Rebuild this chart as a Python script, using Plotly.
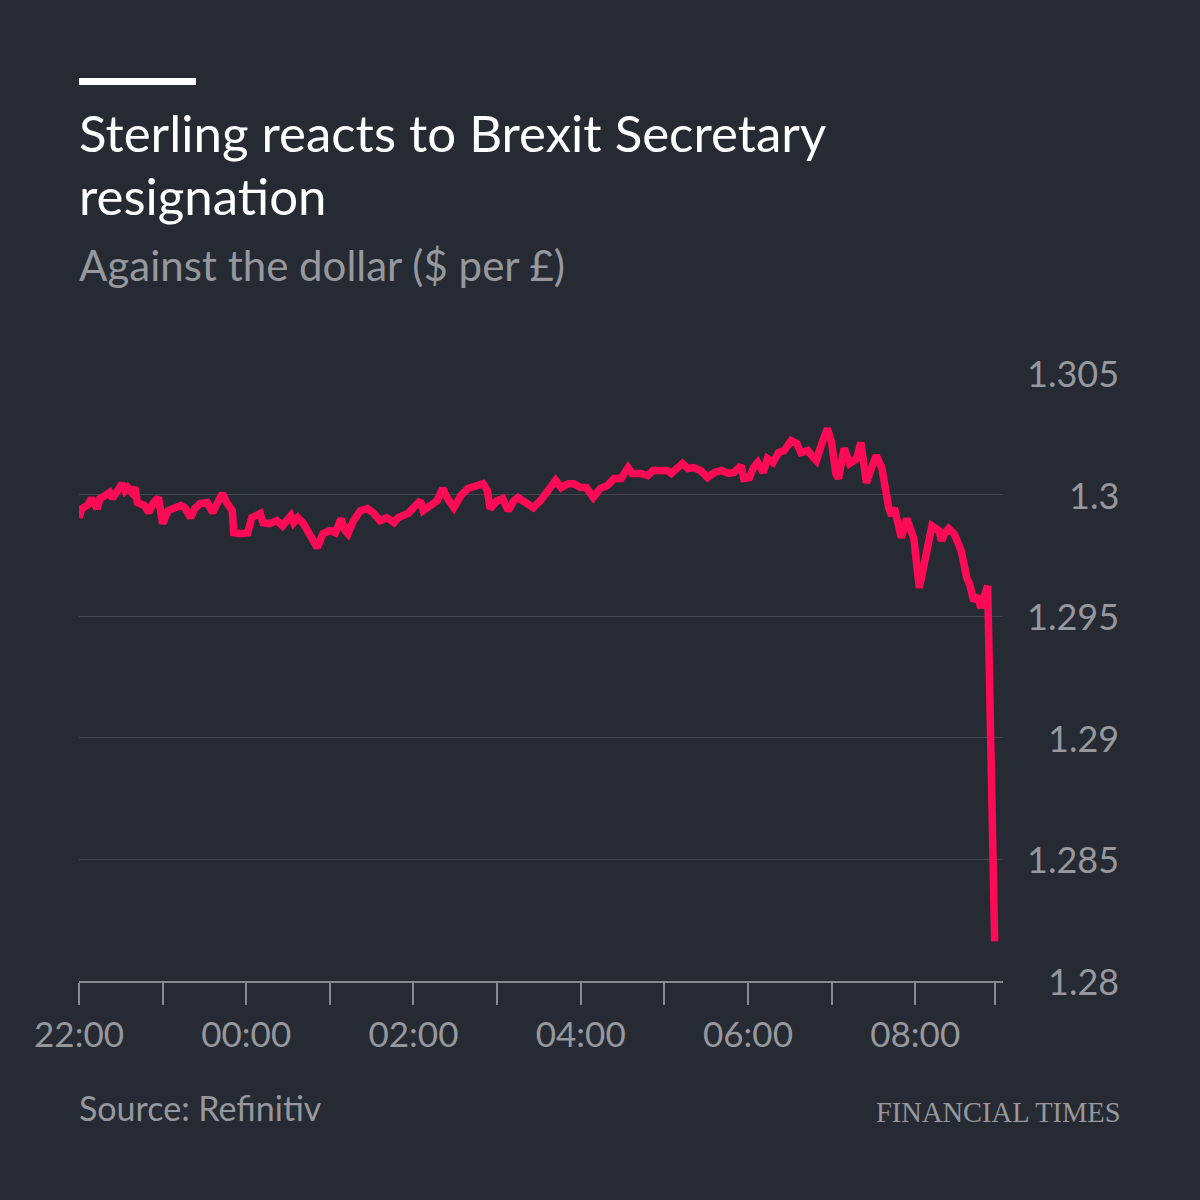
import plotly.graph_objects as go
from datetime import datetime, timedelta

# ---- data ----
times = ["22:00","22:02","22:06","22:09","22:13","22:15","22:19","22:22","22:24","22:27",
         "22:31","22:33","22:35","22:38","22:40","22:42","22:47","22:50","22:53","22:57",
         "23:00","23:04","23:09","23:13","23:16","23:20","23:23","23:27","23:32","23:36",
         "23:39","23:43","23:46","23:50","23:51","23:56","00:01","00:04","00:10","00:12",
         "00:17","00:22","00:26","00:32","00:34","00:37","00:41","00:45","00:48","00:51",
         "00:55","01:00","01:04","01:08","01:11","01:13","01:17","01:22","01:27","01:31",
         "01:36","01:41","01:46","01:49","01:56",
         "02:00","02:05","02:07","02:12","02:17","02:21","02:24","02:29","02:34","02:39",
         "02:45","02:50","02:53","02:55","03:00","03:04","03:08","03:12","03:15","03:19",
         "03:23","03:26","03:31","03:36","03:42","03:46","03:51","03:55","04:00","04:04",
         "04:09","04:14","04:19","04:24","04:29","04:34","04:37","04:43","04:48","04:52",
         "04:57","05:02","05:05","05:10","05:13","05:17","05:21","05:26","05:31","05:36",
         "05:41","05:46","05:50","05:55","05:57","06:01",
         "06:04","06:07","06:11","06:14","06:18","06:22","06:26","06:31","06:35","06:38",
         "06:43","06:47","06:49","06:53","06:57","07:00","07:03","07:05","07:09","07:13",
         "07:18","07:21","07:25","07:28","07:32","07:36","07:38","07:41","07:43","07:45",
         "07:48","07:50","07:54","07:56","07:59","08:03","08:07","08:12","08:17","08:19",
         "08:21","08:24","08:28","08:33","08:37","08:39","08:42","08:45","08:47","08:52",
         "08:57"]
rates = [1.29905,1.29942,1.29955,1.29984,1.29942,1.29984,1.29996,1.30008,1.29984,1.30016,
         1.30045,1.30016,1.30029,1.30008,1.30029,1.29967,1.29955,1.29926,1.29963,1.29988,
         1.29881,1.29934,1.29942,1.29955,1.29946,1.29905,1.29942,1.29963,1.29967,1.29926,
         1.29963,1.30004,1.29967,1.29934,1.29843,1.29839,1.29843,1.29905,1.29922,1.29885,
         1.29881,1.29893,1.29872,1.29913,1.29885,1.29905,1.29881,1.29843,1.29810,1.29782,
         1.29839,1.29852,1.29843,1.29901,1.29852,1.29839,1.29893,1.29934,1.29942,1.29926,
         1.29893,1.29905,1.29885,1.29905,1.29922,
         1.29946,1.29975,1.29934,1.29955,1.29975,1.30025,1.29988,1.29946,1.29996,1.30025,
         1.30037,1.30045,1.30016,1.29942,1.29975,1.29984,1.29934,1.29975,1.29988,1.29975,
         1.29955,1.29946,1.29975,1.30008,1.30058,1.30029,1.30045,1.30045,1.30029,1.30029,
         1.29988,1.30025,1.30037,1.30066,1.30066,1.30111,1.30087,1.30087,1.30078,1.30099,
         1.30099,1.30099,1.30087,1.30111,1.30128,1.30107,1.30111,1.30099,1.30070,1.30091,
         1.30099,1.30087,1.30091,1.30119,1.30066,1.30070,
         1.30111,1.30132,1.30091,1.30148,1.30132,1.30173,1.30181,1.30222,1.30210,1.30173,
         1.30181,1.30152,1.30140,1.30210,1.30272,1.30214,1.30087,1.30066,1.30190,1.30128,
         1.30148,1.30214,1.30049,1.30099,1.30161,1.30111,1.30029,1.29946,1.29913,1.29946,
         1.29872,1.29823,1.29901,1.29864,1.29819,1.29617,1.29728,1.29872,1.29852,1.29810,
         1.29839,1.29860,1.29839,1.29769,1.29658,1.29633,1.29563,1.29584,1.29534,1.29625,
         1.28163]

x_tick_times = ["22:00","23:00","00:00","01:00","02:00","03:00","04:00","05:00",
                "06:00","07:00","08:00","08:57"]
x_tick_labels = ["22:00","","00:00","","02:00","","04:00","","06:00","","08:00",""]
y_tick_vals = [1.28, 1.285, 1.29, 1.295, 1.3, 1.305]
y_tick_labels = ["1.28", "1.285", "1.29", "1.295", "1.3", "1.305"]

title_line1 = "Sterling reacts to Brexit Secretary"
title_line2 = "resignation"
subtitle = "Against the dollar ($ per £)"
source = "Source: Refinitiv"
brand = "FINANCIAL TIMES"


def to_dt(hm):
    h, m = map(int, hm.split(":"))
    day = 14 if h >= 22 else 15
    return datetime(2018, 11, day, h, m)


xs = [to_dt(t) for t in times]
xt = [to_dt(t) for t in x_tick_times]

BG = "#262a33"
GREY = "#97989d"
FONT = "Lato"

# plot area in pixels
L, R, T, B = 79, 1003, 373, 981
W, H = R - L, B - T


def py(p):
    return (B - p) / H


def px(p):
    return (p - L) / W


fig = go.Figure()
fig.add_trace(go.Scatter(x=xs, y=rates, mode="lines",
                         line=dict(color="#ff0a55", width=7.5),
                         hoverinfo="skip", showlegend=False))

fig.update_layout(
    width=1200, height=1200,
    margin=dict(l=L, r=1200 - R, t=T, b=1200 - B, pad=0),
    paper_bgcolor=BG, plot_bgcolor=BG,
    font=dict(family=FONT, color=GREY),
    xaxis=dict(range=[datetime(2018, 11, 14, 22, 0), datetime(2018, 11, 15, 9, 3)],
               tickmode="array", tickvals=xt, ticktext=x_tick_labels,
               ticks="outside", ticklen=22, tickwidth=1.5, tickcolor="#878a90",
               showline=True, linecolor="#878a90", linewidth=2,
               showgrid=False, zeroline=False,
               tickfont=dict(size=35, color=GREY, family=FONT)),
    yaxis=dict(range=[1.28, 1.305], tickmode="array", tickvals=y_tick_vals,
               showticklabels=False, showgrid=True, gridcolor="#41454d", gridwidth=1,
               zeroline=False, showline=False),
)

for v, lab in zip(y_tick_vals, y_tick_labels):
    fig.add_annotation(x=px(1121), xref="paper", y=v, yref="y", text=lab,
                       showarrow=False, xanchor="right", yanchor="middle",
                       font=dict(size=36, color=GREY, family=FONT))

fig.add_shape(type="rect", xref="paper", yref="paper",
              x0=px(79), x1=px(196), y0=py(85), y1=py(78),
              fillcolor="#ffffff", line=dict(width=0))

fig.add_annotation(x=px(77), y=py(132), xref="paper", yref="paper", text=title_line1,
                   showarrow=False, xanchor="left", yanchor="middle",
                   font=dict(size=51, color="#ffffff", family=FONT))
fig.add_annotation(x=px(77), y=py(196), xref="paper", yref="paper", text=title_line2,
                   showarrow=False, xanchor="left", yanchor="middle",
                   font=dict(size=51, color="#ffffff", family=FONT))
fig.add_annotation(x=px(77), y=py(265), xref="paper", yref="paper", text=subtitle,
                   showarrow=False, xanchor="left", yanchor="middle",
                   font=dict(size=42, color=GREY, family=FONT))
fig.add_annotation(x=px(77), y=py(1107), xref="paper", yref="paper", text=source,
                   showarrow=False, xanchor="left", yanchor="middle",
                   font=dict(size=34, color=GREY, family=FONT))
fig.add_annotation(x=px(1123), y=py(1112), xref="paper", yref="paper", text=brand,
                   showarrow=False, xanchor="right", yanchor="middle",
                   font=dict(size=28.5, color=GREY, family="Liberation Serif"))

fig.write_html("out.html")
